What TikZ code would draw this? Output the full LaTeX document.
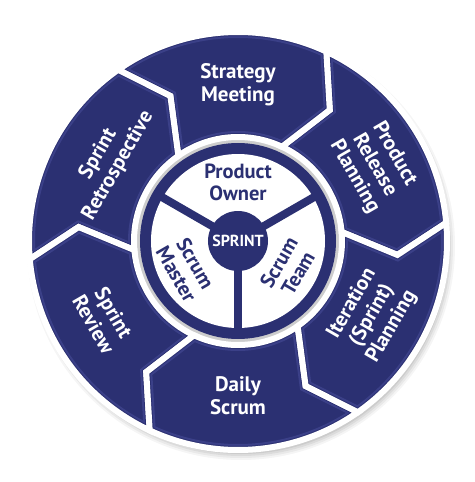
\documentclass[tikz,border=0pt]{standalone}
\usepackage{fontspec}
\setmainfont{PT Sans}
\definecolor{navy}{HTML}{2B3072}
\definecolor{navylight}{HTML}{3B4088}
\definecolor{navydark}{HTML}{1E2258}
\tikzset{
  outertxt/.style={text=white, font=\bfseries\fontsize{21}{23}\selectfont, align=center, inner sep=0pt},
  innertxt/.style={text=navy, font=\bfseries\fontsize{20.5}{22}\selectfont, align=center, inner sep=0pt},
  hubtxt/.style={text=white, font=\bfseries\fontsize{16}{18}\selectfont, inner sep=0pt}
}
\newcommand\segpath[1]{(#1+5:209pt) arc[start angle=#1+5, end angle=#1+65, radius=209pt] -- (#1+55:160pt) -- (#1+65:104pt) arc[start angle=#1+65, end angle=#1+5, radius=104pt] -- (#1-5:160pt) -- cycle}
\begin{document}
\begin{tikzpicture}
\useasboundingbox (-238pt,-241pt) rectangle (236pt,241pt);
% soft shadow
\foreach \r/\o in {214/0.04,212/0.05,210/0.06,208/0.07} {
  \fill[black, opacity=\o] (3pt,-5pt) circle (\r pt);
}
% outer ring segments
\foreach \a in {0,60,120,180,240,300} {
  \begin{scope}
    \clip \segpath{\a};
    \fill[navy] \segpath{\a};
    \draw[navylight, line width=12pt] \segpath{\a};
    \draw[navy, line width=8pt] \segpath{\a};
  \end{scope}
  \draw[white, line width=6pt, line join=miter] \segpath{\a};
}
% hub
\fill[navy] (0,0) circle (98pt);
\fill[white] (0,0) circle (87pt);
\foreach \t in {30,150,270} {
  \draw[navy, line width=8pt] (0,0) -- (\t:88pt);
}
\fill[navy] (0,0) circle (30pt);
% outer labels
\node[outertxt] (strat) at (90:156pt) {Strategy\\Meeting};
\node[outertxt, rotate=-60] (release) at (29:156pt) {Product\\Release\\Planning};
\node[outertxt, rotate=60] (iter) at (-29:153pt) {Iteration\\(Sprint)\\Planning};
\node[outertxt] (daily) at (-90:155pt) {Daily\\Scrum};
\node[outertxt, rotate=-60] (review) at (210:155pt) {Sprint\\Review};
\node[outertxt, rotate=60] (retro) at (148:153pt) {Sprint\\Retrospective};
% inner labels
\node[innertxt] (owner) at (90:59pt) {Product\\Owner};
\node[innertxt, rotate=-60] (master) at (208:59pt) {Scrum\\Master};
\node[innertxt, rotate=60] (team) at (332:57pt) {Scrum\\Team};
\node[hubtxt] (sprint) at (0,0) {SPRINT};
\end{tikzpicture}
\end{document}
